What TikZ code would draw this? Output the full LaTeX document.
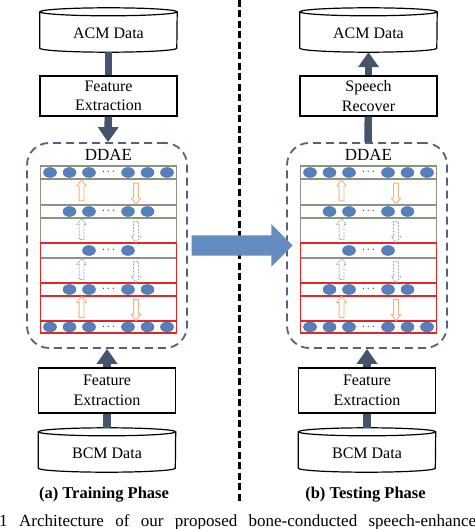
\documentclass[tikz,border=0pt]{standalone}
\usepackage{fontspec}
\setmainfont{Liberation Serif}
\usetikzlibrary{shapes.geometric,shapes.arrows,arrows.meta,calc}

\definecolor{slate}{RGB}{68,84,106}
\definecolor{ddaedash}{RGB}{84,98,122}
\definecolor{unitblue}{RGB}{86,128,188}
\definecolor{unitedge}{RGB}{70,108,165}
\definecolor{layergray}{RGB}{138,148,126}
\definecolor{layerred}{RGB}{228,38,42}
\definecolor{lightorange}{RGB}{244,176,128}
\definecolor{bigblue}{RGB}{100,140,192}

\newcommand\cylout[1]{%
  \draw[line width=1.2pt] ([yshift=-4pt]#1.north) ellipse [x radius=68.5pt, y radius=4pt];
  \draw[line width=1.2pt] ([yshift=-4pt]#1.north west) -- ([yshift=4pt]#1.south west)
     arc [start angle=180, end angle=360, x radius=68.5pt, y radius=4pt]
     -- ([yshift=-4pt]#1.north east);
}

\tikzset{
  box/.style={draw, line width=1.2pt, minimum width=137pt, inner sep=0pt, align=center,
    font=\fontsize{16}{19.5}\selectfont},
  cylbox/.style={minimum width=137pt, inner sep=0pt, text height=30.5pt, text depth=13.5pt,
    font=\fontsize{16}{19.5}\selectfont},
  ddae/.style={draw=ddaedash, line width=1.8pt, dash pattern=on 8pt off 5pt,
    rounded corners=22pt, minimum width=160pt, minimum height=205pt, inner sep=0pt},
  ddaelabel/.style={inner sep=1pt, font=\fontsize{17}{17}\selectfont},
  bar/.style={draw=slate, line width=7.5pt},
  bararrow/.style={bar, -{Triangle[width=20pt,length=15pt]}},
  unit/.style={ellipse, fill=unitblue, draw=unitedge, line width=0.4pt,
    minimum width=13pt, minimum height=10pt, inner sep=0pt},
  dotsnode/.style={inner sep=0pt, font=\bfseries\fontsize{11}{11}\selectfont},
  graylayer/.style={draw=layergray, line width=1.2pt},
  redlayer/.style={draw=layerred, line width=1.2pt},
  layerarrow/.style={single arrow, fill=white, line width=0.9pt, minimum height=21pt,
    inner sep=2pt, single arrow head extend=2.2pt, single arrow tip angle=75},
  orangearrow/.style={layerarrow, draw=lightorange},
  grayarrow/.style={layerarrow, draw=gray!65, dash pattern=on 2pt off 1.2pt},
  bigarrow/.style={single arrow, fill=bigblue, draw=none, minimum height=101pt,
    inner xsep=0pt, inner ysep=10pt, single arrow head extend=11pt, single arrow tip angle=90},
  phaselabel/.style={anchor=base, inner sep=0pt, font=\bfseries\fontsize{16.5}{16.5}\selectfont},
  captionline/.style={anchor=base west, inner sep=0pt, font=\fontsize{17}{17}\selectfont},
  divider/.style={draw=black, line width=2.6pt, dash pattern=on 7pt off 3.5pt},
  ddaestack/.pic={
    \draw[graylayer] (-68,166) rectangle (68,258);
    \foreach \yy in {179,205,218} {\draw[graylayer] (-68,\yy) -- (68,\yy);}
    \draw[redlayer] (-68,243) rectangle (68,333);
    \foreach \yy in {283,296,321} {\draw[redlayer] (-68,\yy) -- (68,\yy);}
    \draw[graylayer] (-67.4,258) -- (67.4,258);
    \foreach \rr/\yy/\lst in {1/172.5/{-58.5,-39,-19.5,19.5,39,58.5},
                             2/211.5/{-39,-19.5,19.5,39},
                             3/250.5/{-19.5,19.5},
                             4/289.5/{-39,-19.5,19.5,39},
                             5/327/{-58.5,-39,-19.5,19.5,39,58.5}} {
      \foreach \xx [count=\ii] in \lst {\node[unit] (-u\rr-\ii) at (\xx,\yy) {};}
      \node[dotsnode] (-d\rr) at (0,\yy) {$\cdots$};
    }
    \foreach \kk/\yy/\sty in {1/192/orangearrow, 2/230.5/grayarrow,
                              3/270.5/grayarrow, 4/308.5/orangearrow} {
      \node[\sty, shape border rotate=90] (-up\kk) at (-27,\yy) {};
      \node[\sty, shape border rotate=270] (-dn\kk) at (27.5,\yy) {};
    }
  }
}

\begin{document}
\begin{tikzpicture}[x=1pt,y=-1pt]
\useasboundingbox (0,0) rectangle (474,529);

% ---------- left: training phase ----------
\node[cylbox] (acmL) at (108.5,30) {ACM Data};
\cylout{acmL}
\node[box, minimum height=40pt] (feTL) at (108.5,96) {Feature\\Extraction};
\node[ddae] (ddaeL) at (107,245.5) {};
\node[ddaelabel] (labL) at (108.5,155) {DDAE};
\pic (L) at (108.5,0) {ddaestack};
\node[box, minimum height=45pt] (feBL) at (107,390.5) {Feature\\Extraction};
\node[cylbox] (bcmL) at (107,450) {BCM Data};
\cylout{bcmL}

\draw[bar] (acmL) -- (feTL);
\draw[bararrow] (feTL) -- (ddaeL);
\draw[bar] (bcmL) -- (feBL);
\draw[bararrow] (feBL) -- (ddaeL);

% ---------- right: testing phase ----------
\node[cylbox] (acmR) at (368.5,30) {ACM Data};
\cylout{acmR}
\node[box, minimum height=40pt] (srR) at (368.5,96) {Speech\\Recover};
\node[ddae] (ddaeR) at (367,245.5) {};
\node[ddaelabel] (labR) at (368.5,155) {DDAE};
\pic (R) at (368.5,0) {ddaestack};
\node[box, minimum height=45pt] (feBR) at (367,390.5) {Feature\\Extraction};
\node[cylbox] (bcmR) at (367,450) {BCM Data};
\cylout{bcmR}

\draw[bar] (ddaeR) -- (srR);
\draw[bararrow] (srR) -- (acmR);
\draw[bar] (bcmR) -- (feBR);
\draw[bararrow] (feBR) -- (ddaeR);

% ---------- middle ----------
\coordinate (divtop) at (239.5,0);
\coordinate (divbot) at (239.5,502);
\draw[divider] (divtop) -- (divbot);
\node[bigarrow] (mid) at ($(ddaeL.east)!0.5!(ddaeR.west)$) {};

% ---------- captions ----------
\node[phaselabel] (capA) at (104,498.5) {(a) Training Phase};
\node[phaselabel] (capB) at (365.5,498.5) {(b) Testing Phase};

\node[captionline] (figcap) at (-1,526) {\makebox[477pt][s]{1 Architecture of our proposed bone-conducted speech-enhance}};
\end{tikzpicture}
\end{document}
